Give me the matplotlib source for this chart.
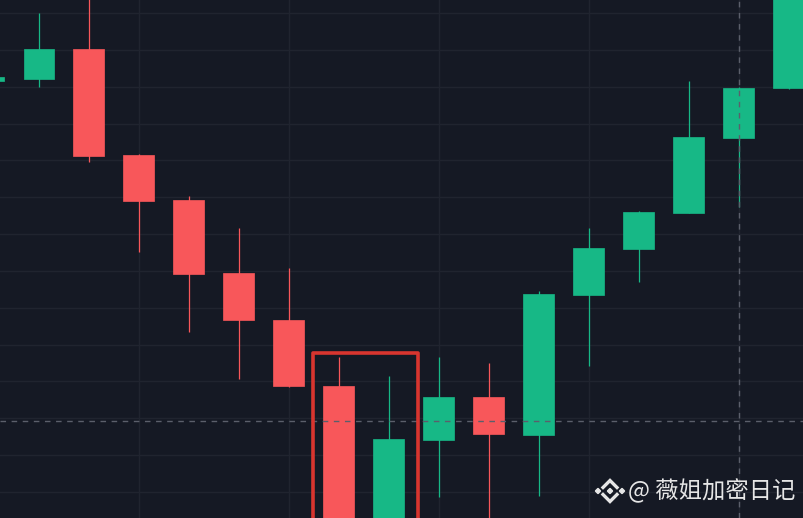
import numpy as np
import matplotlib.pyplot as plt
from matplotlib.patches import Rectangle, Polygon

# candle index 0 is the first full candle; -1 is the clipped one at the left edge
idx = list(range(-1, 16))
opens = [437, 439, 469, 363, 318, 245, 198, 132, -20, 78, 121, 83, 223, 269, 305, 380, 430]
highs = [443, 505, 528, 364, 322, 290, 250, 161, 142, 161, 155, 227, 290, 307, 437, 431, 550]
lows = [435, 431, 356, 266, 186, 139, 131, -40, -30, 21, -5, 22, 152, 236, 305, 311, 429]
closes = [441, 469, 362, 317, 244, 198, 132, -25, 79, 121, 84, 224, 270, 306, 381, 430, 540]

last_price = 97
crosshair_idx = 14
box_from, box_to, box_top = 5.48, 7.58, 165
watermark = "@ 薇姐加密日记"

BG = '#151924'
GRID = '#20242f'
UP = '#17b886'
DOWN = '#f8575a'

fig = plt.figure(figsize=(8.04, 5.18), dpi=100)
fig.patch.set_facecolor(BG)
ax = fig.add_axes([0, 0, 1, 1])
ax.set_facecolor(BG)
ax.set_xlim(-0.78, 15.30)
ax.set_ylim(0, 518)
ax.axis('off')

# grid
for gy in np.arange(26, 518, 36.85):
    ax.axhline(gy, color=GRID, lw=1, zorder=0)
for gx in range(-1, 16, 3):
    ax.axvline(gx, color=GRID, lw=1, zorder=0)

# candles
w = 0.62
for i, o, h, l, c in zip(idx, opens, highs, lows, closes):
    col = UP if c >= o else DOWN
    ax.vlines(i, l, h, color=col, lw=0.9, zorder=2)
    ax.add_patch(Rectangle((i - w / 2, min(o, c)), w, abs(c - o),
                           facecolor=col, edgecolor=col, lw=0.5, zorder=3))

# last price line and crosshair
ax.axhline(last_price, color='#5b5f6b', lw=1, ls=(0, (4, 4)), zorder=4)
ax.axvline(crosshair_idx, color='#5b5f6b', lw=1, ls=(0, (4, 4)), zorder=4)

# highlight box
ax.add_patch(Rectangle((box_from, -20), box_to - box_from, box_top + 20,
                       fill=False, edgecolor='#d8352f', lw=2.6,
                       joinstyle='round', zorder=5))

# watermark: logo + text
ov = fig.add_axes([0, 0, 1, 1])
ov.set_xlim(0, 804)
ov.set_ylim(518, 0)
ov.axis('off')
ov.patch.set_alpha(0)
wm = '#e6e6e6'
for cx in (598, 610, 622):
    s = 2.6
    ov.add_patch(Polygon([(cx - s, 491), (cx, 491 - s), (cx + s, 491), (cx, 491 + s)],
                         closed=True, color=wm))
ov.plot([603, 610, 617], [487.5, 480.5, 487.5], color=wm, lw=2.4, solid_joinstyle='miter')
ov.plot([603, 610, 617], [494.5, 501.5, 494.5], color=wm, lw=2.4, solid_joinstyle='miter')
ov.text(628, 491, watermark, color=wm, fontsize=16.8, ha='left', va='center',
        family=['Noto Sans CJK SC', 'DejaVu Sans'])

fig.savefig('out.png', dpi=100, facecolor=BG)
